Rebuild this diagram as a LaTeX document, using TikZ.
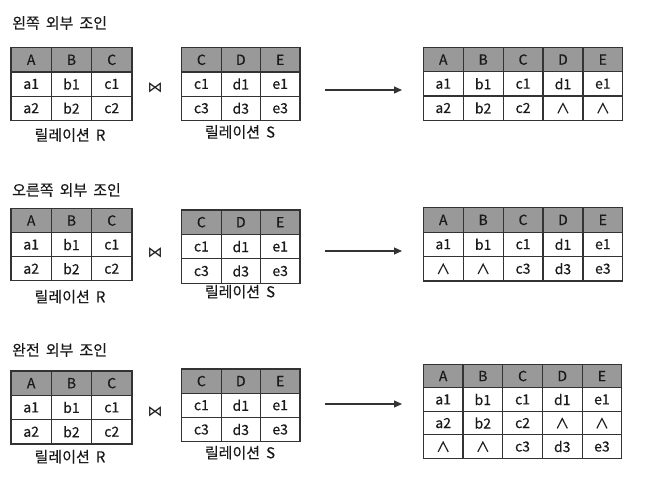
\documentclass[tikz,border=0pt]{standalone}
\usepackage{fontspec}
\setmainfont{Noto Sans CJK KR}[FakeBold=0.35, WordSpace=1.8]
\newfontfamily\symfont{DejaVu Sans}
\usetikzlibrary{arrows.meta}
\definecolor{hdr}{HTML}{999999}
\definecolor{bord}{HTML}{333333}
\definecolor{txt}{HTML}{1A1A1A}
\tikzset{
  cell/.style={draw=bord, line width=1.2pt, inner sep=0pt, outer sep=0pt,
      font=\fontsize{14}{14}\selectfont, text=txt, anchor=center},
  row1/.style={fill=hdr}, row2/.style={}, row3/.style={}, row4/.style={},
  ttl/.style={anchor=west, inner sep=0pt, font=\fontsize{15}{15}\selectfont, text=txt},
  lbl/.style={inner sep=0pt, font=\fontsize{15}{15}\selectfont, text=txt},
  joinsym/.style={inner sep=0pt, font=\symfont\fontsize{15}{15}\selectfont, text=txt},
  arr/.style={draw=bord, line width=1.2pt, -{Triangle[length=8pt,width=7pt]}}
}
% \mktable{name}{x0}{y0}{cell width}{cell height}{rows}
\newcommand\mktable[6]{%
  \foreach \rw [count=\ii] in {#6} {%
    \foreach \cv [count=\jj] in \rw {%
      \node[cell, row\ii, minimum width=#4pt, minimum height=#5pt]
        (#1-\ii-\jj) at ({#2+(\jj-0.5)*#4},{#3+(\ii-0.5)*#5}) {\cv};
    }%
  }%
}
\begin{document}
\begin{tikzpicture}[x=1pt,y=-1pt]
\useasboundingbox[fill=white] (0,0) rectangle (654,479);
% ---------- section 1 ----------
\node[ttl] (t1) at (12,23) {왼쪽 외부 조인};
\mktable{R1}{11}{47.7}{40.3}{24.2}{{A,B,C},{a1,b1,c1},{a2,b2,c2}}
\mktable{S1}{181.7}{47.7}{39.4}{24.2}{{C,D,E},{c1,d1,e1},{c3,d3,e3}}
\node[lbl] (lr1) at (70,135) {릴레이션 R};
\node[lbl] (ls1) at (240,132) {릴레이션 S};
\node[joinsym] (j1) at (155,88) {⋈};
\coordinate (a1s) at (325,90);
\coordinate (a1e) at (402,90);
\draw[arr] (a1s) -- (a1e);
\mktable{T1}{423.3}{47.5}{39.9}{24.2}{{A,B,C,D,E},{a1,b1,c1,d1,e1},{a2,b2,c2,∧,∧}}
% ---------- section 2 ----------
\node[ttl] (t2) at (12,190) {오른쪽 외부 조인};
\mktable{R2}{11}{208.5}{40.3}{24.1}{{A,B,C},{a1,b1,c1},{a2,b2,c2}}
\mktable{S2}{181.7}{210}{39.4}{24.4}{{C,D,E},{c1,d1,e1},{c3,d3,e3}}
\node[lbl] (lr2) at (70,296.7) {릴레이션 R};
\node[lbl] (ls2) at (240,291.7) {릴레이션 S};
\node[joinsym] (j2) at (155,252.7) {⋈};
\coordinate (a2s) at (325,251);
\coordinate (a2e) at (402,251);
\draw[arr] (a2s) -- (a2e);
\mktable{T2}{423.3}{207.7}{39.9}{24.4}{{A,B,C,D,E},{a1,b1,c1,d1,e1},{∧,∧,c3,d3,e3}}
% ---------- section 3 ----------
\node[ttl] (t3) at (12,350) {완전 외부 조인};
\mktable{R3}{11}{371}{40.3}{24.3}{{A,B,C},{a1,b1,c1},{a2,b2,c2}}
\mktable{S3}{181.7}{369}{39.4}{24.2}{{C,D,E},{c1,d1,e1},{c3,d3,e3}}
\node[lbl] (lr3) at (70,456.7) {릴레이션 R};
\node[lbl] (ls3) at (240,452.7) {릴레이션 S};
\node[joinsym] (j3) at (155,411.7) {⋈};
\coordinate (a3s) at (325,404);
\coordinate (a3e) at (402,404);
\draw[arr] (a3s) -- (a3e);
\mktable{T3}{423.3}{364.3}{39.7}{23.5}{{A,B,C,D,E},{a1,b1,c1,d1,e1},{a2,b2,c2,∧,∧},{∧,∧,c3,d3,e3}}
\end{tikzpicture}
\end{document}
